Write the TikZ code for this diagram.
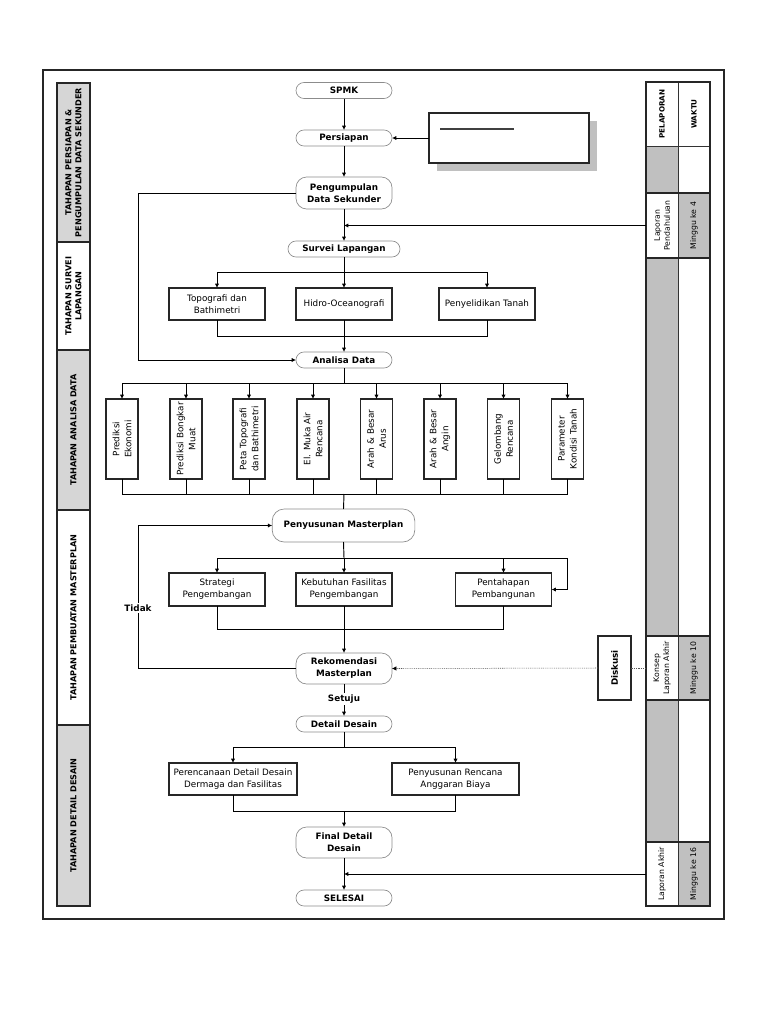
\documentclass[tikz,border=0pt]{standalone}
\usepackage{fontspec}
\setmainfont{DejaVu Sans}
\usetikzlibrary{arrows.meta}
\definecolor{silverc}{RGB}{192,192,192}
\definecolor{dotc}{RGB}{214,214,214}
\newcommand\fsz{\fontsize{6.6}{9}\selectfont}
\newcommand\fsl{\fontsize{6.1}{7.5}\selectfont}
\newcommand\fsr{\fontsize{5.8}{7.5}\selectfont}
\newcommand\fsh{\fontsize{5.4}{7}\selectfont}
\begin{document}
\begin{tikzpicture}[x=0.75pt,y=-0.75pt,
 term/.style={draw=black!45, line width=0.5pt, rounded corners=6pt, fill=white, font=\bfseries\fsz, align=center, minimum width=72pt, minimum height=12pt, inner sep=0.5pt, outer sep=0pt},
 proc/.style={draw=black!85, line width=0.8pt, fill=white, font=\fsz, align=center, minimum width=72pt, minimum height=24pt, inner sep=0.5pt, outer sep=0pt},
 vproc/.style={proc, rotate=90, minimum width=60pt, minimum height=24pt},
 conn/.style={line width=0.7pt, black},
 arr/.style={conn, -{Latex[length=3.2pt,width=3.2pt]}},
 dotline/.style={line width=0.4pt, black!65, dash pattern=on 0.7pt off 0.7pt},
 lbl/.style={font=\bfseries\fsz, fill=white, inner sep=1pt},
 sec/.style={draw=black!85, line width=1pt},
 sectext/.style={rotate=90, font=\bfseries\fsl, align=center, inner sep=0pt},
 cell/.style={rotate=90, font=\fsr, align=center, inner sep=0pt, outer sep=0pt, minimum height=24pt},
 hcell/.style={cell, font=\bfseries\fsh},
]
\useasboundingbox (0,0) rectangle (768,1024);
\fill[white] (0,0) rectangle (768,1024);
\draw[black!85, line width=1.5pt] (43,70) rectangle (724,919);

% left column
\draw[sec, fill=dotc] (57,83) rectangle (90,242);
\draw[sec, fill=white] (57,242) rectangle (90,350);
\draw[sec, fill=dotc] (57,350) rectangle (90,510);
\draw[sec, fill=white] (57,510) rectangle (90,725);
\draw[sec, fill=dotc] (57,725) rectangle (90,906);
\node[sectext] (s1) at (73.5,162.5) {TAHAPAN PERSIAPAN \&\\PENGUMPULAN DATA SEKUNDER};
\node[sectext] (s2) at (73.5,296) {TAHAPAN SURVEI\\LAPANGAN};
\node[sectext] (s3) at (73.5,430) {TAHAPAN ANALISA DATA};
\node[sectext] (s4) at (73.5,617.5) {TAHAPAN PEMBUATAN MASTERPLAN};
\node[sectext] (s5) at (73.5,815.5) {TAHAPAN DETAIL DESAIN};

% right column
\fill[silverc] (646,146) rectangle (678,193);
\fill[silverc] (678,193) rectangle (710,258);
\fill[silverc] (646,258) rectangle (678,636);
\fill[silverc] (678,636) rectangle (710,700);
\fill[silverc] (646,700) rectangle (678,842);
\fill[silverc] (678,842) rectangle (710,906);
\draw[black!80, line width=0.6pt] (678,82) -- (678,906);
\draw[black!80, line width=0.6pt] (646,146) -- (710,146);
\draw[sec] (646,82) rectangle (710,906);
\draw[sec] (646,193) rectangle (710,258);
\draw[sec] (646,636) rectangle (710,700);
\draw[sec] (646,842) rectangle (710,906);
\node[hcell, minimum width=48pt] (h1) at (662,114) {PELAPORAN};
\node[hcell, minimum width=48pt] (h2) at (694,114) {WAKTU};
\node[cell, minimum width=48.75pt] (lp) at (662,225.5) {Laporan\\Pendahuluan};
\node[cell, minimum width=48.75pt] (m4) at (694,225.5) {Minggu ke 4};
\node[cell, minimum width=48pt] (kla) at (662,668) {Konsep\\Laporan Akhir};
\node[cell, minimum width=48pt] (m10) at (694,668) {Minggu ke 10};
\node[cell, minimum width=48pt] (la) at (662,874) {Laporan Akhir};
\node[cell, minimum width=48pt] (m16) at (694,874) {Minggu ke 16};

% callout
\fill[silverc] (437,121) rectangle (597,171);
\node[draw=black!85, line width=0.8pt, fill=white, minimum width=120pt, minimum height=37.5pt, outer sep=0pt] (note) at (509,138) {};
\draw[black!75, line width=0.8pt] (440,129) -- (514,129);

% flow nodes
\node[term] (spmk) at (344,90.5) {SPMK};
\node[term] (persiapan) at (344,138) {Persiapan};
\node[term, minimum height=24pt, rounded corners=8pt] (pds) at (344,193) {Pengumpulan\\Data Sekunder};
\node[term, minimum width=84pt] (survei) at (344,249) {Survei Lapangan};
\node[proc] (topo) at (217,304) {Topografi dan\\Bathimetri};
\node[proc] (hidro) at (344,304) {Hidro-Oceanografi};
\node[proc] (tanah) at (487,304) {Penyelidikan Tanah};
\node[term] (analisa) at (344,360) {Analisa Data};

\node[vproc] (b1) at (122,439) {Prediksi\\Ekonomi};
\node[vproc] (b2) at (186,439) {Prediksi Bongkar\\Muat};
\node[vproc] (b3) at (249,439) {Peta Topografi\\dan Bathimetri};
\node[vproc] (b4) at (313,439) {El. Muka Air\\Rencana};
\node[vproc] (b5) at (376.5,439) {Arah \& Besar\\Arus};
\node[vproc] (b6) at (440,439) {Arah \& Besar\\Angin};
\node[vproc] (b7) at (503.5,439) {Gelombang\\Rencana};
\node[vproc] (b8) at (567.5,439) {Parameter\\Kondisi Tanah};

\node[term, minimum width=107pt, minimum height=24.75pt, rounded corners=9pt] (masterplan) at (343.5,525.5) {Penyusunan Masterplan};
\node[proc, minimum height=24.75pt] (strategi) at (217,589.5) {Strategi\\Pengembangan};
\node[proc, minimum height=24.75pt] (kebutuhan) at (344,589.5) {Kebutuhan Fasilitas\\Pengembangan};
\node[proc, minimum height=24.75pt] (pentahapan) at (503.5,589.5) {Pentahapan\\Pembangunan};
\node[term, minimum height=23.25pt, rounded corners=8pt] (rekom) at (344,668.5) {Rekomendasi\\Masterplan};
\node[draw=black!85, line width=0.8pt, rotate=90, minimum width=48pt, minimum height=24.75pt, font=\bfseries\fsz, inner sep=0pt, outer sep=0pt, fill=white] (diskusi) at (614.5,668) {Diskusi};
\node[term] (detail) at (344,724) {Detail Desain};
\node[proc, minimum width=96pt] (perenc) at (233,779) {Perencanaan Detail Desain\\Dermaga dan Fasilitas};
\node[proc, minimum width=95.25pt] (rab) at (455.5,779) {Penyusunan Rencana\\Anggaran Biaya};
\node[term, minimum height=23.25pt, rounded corners=8pt] (final) at (344,842.5) {Final Detail\\Desain};
\node[term] (selesai) at (344,898) {SELESAI};

% connectors
\draw[arr] (spmk) -- (persiapan);
\draw[arr] (note.west) -- (persiapan.east);
\draw[arr] (persiapan) -- (pds);
\draw[arr] (pds) -- (survei);
\coordinate (jlp) at (344,225.5);
\draw[arr] (lp.north) -- (jlp);
\draw[arr] (pds.west) -- (138,193) |- (analisa.west);

\coordinate (sb) at (344,272);
\draw[conn] (survei.south) -- (sb);
\draw[arr] (sb) -| (topo.north);
\draw[arr] (sb) -| (tanah.north);
\draw[arr] (sb) -- (hidro.north);
\draw[conn] (topo.south) -- (217,336) -- (487,336) -- (tanah.south);
\draw[arr] (hidro.south) -- (analisa.north);

\coordinate (ab) at (344,383);
\coordinate (am) at (344,494);
\draw[conn] (analisa.south) -- (ab);
\draw[conn] (b1.east |- ab) -- (b8.east |- ab);
\draw[conn] (b1.west |- am) -- (b8.west |- am);
\foreach \i in {1,...,8}{
  \draw[arr] (b\i.east |- ab) -- (b\i.east);
  \draw[conn] (b\i.west) -- (b\i.west |- am);
}
\draw[conn] (am) -- (masterplan.north);

\coordinate (mb) at (344,558);
\draw[conn] (masterplan.south) -- (mb);
\draw[conn] (strategi.north |- mb) -- (567,558) -- (567,589.5);
\draw[arr] (567,589.5) -- (pentahapan.east);
\draw[arr] (strategi.north |- mb) -- (strategi.north);
\draw[arr] (mb) -- (kebutuhan.north);
\draw[arr] (pentahapan.north |- mb) -- (pentahapan.north);
\draw[conn] (strategi.south) -- (217,629) -- (503.5,629) -- (pentahapan.south);
\draw[arr] (kebutuhan.south) -- (rekom.north);

\draw[arr] (rekom.west) -- (138,668.5) |- (masterplan.west);
\node[lbl] (tidak) at (138,608) {Tidak};

\draw[dotline] (kla.north) -- (diskusi.south);
\draw[dotline, -{Latex[length=3.2pt,width=3.2pt,black]}] (diskusi.north) -- (rekom.east);

\draw[arr] (rekom.south) -- (detail.north);
\node[lbl] (setuju) at (344,699) {Setuju};

\coordinate (db) at (344,747);
\draw[conn] (detail.south) -- (db);
\draw[arr] (db) -| (perenc.north);
\draw[arr] (db) -| (rab.north);
\draw[conn] (perenc.south) -- (233,811) -- (455.5,811) -- (rab.south);
\draw[arr] (344,811) -- (final.north);
\draw[arr] (final.south) -- (selesai.north);
\coordinate (jla) at (344,874);
\draw[arr] (la.north) -- (jla);
\end{tikzpicture}
\end{document}
